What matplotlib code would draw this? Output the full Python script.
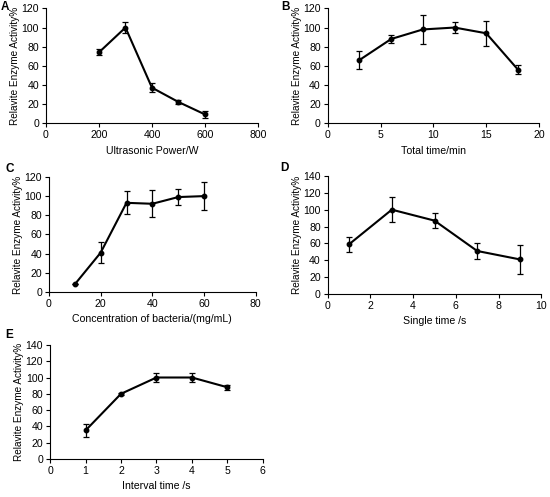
import matplotlib
matplotlib.use("Agg")
import matplotlib.pyplot as plt

plt.rcParams['font.family'] = ['Liberation Sans', 'DejaVu Sans']

# Data
a_x = [200, 300, 400, 500, 600]
a_y = [74, 100, 37, 22, 9]
a_err = [3, 6, 5, 2, 4]

b_x = [3, 6, 9, 12, 15, 18]
b_y = [66, 88, 98, 100, 94, 56]
b_err = [9, 4, 15, 6, 13, 5]

c_x = [10, 20, 30, 40, 50, 60]
c_y = [8, 41, 93, 92, 99, 100]
c_err = [0, 11, 12, 14, 8, 15]

d_x = [1, 3, 5, 7, 9]
d_y = [59, 100, 87, 51, 41]
d_err = [9, 15, 9, 9, 17]

e_x = [1, 2, 3, 4, 5]
e_y = [35, 80, 100, 100, 88]
e_err = [8, 1, 6, 5, 3]

ylabel = "Relavite Enzyme Activity%"

fig = plt.figure(figsize=(5.5, 4.97), dpi=100)

panels = [
    ("A", [0.0836, 0.7525, 0.469 - 0.0836, 0.983 - 0.7525], a_x, a_y, a_err,
     "Ultrasonic Power/W", (0, 800), range(0, 801, 200), (0, 120), range(0, 121, 20), (1, 1)),
    ("B", [0.596, 0.7525, 0.980 - 0.596, 0.983 - 0.7525], b_x, b_y, b_err,
     "Total time/min", (0, 20), range(0, 21, 5), (0, 120), range(0, 121, 20), (281, 1)),
    ("C", [0.089, 0.4125, 0.465 - 0.089, 0.644 - 0.4125], c_x, c_y, c_err,
     "Concentration of bacteria/(mg/mL)", (0, 80), range(0, 81, 20), (0, 120), range(0, 121, 20), (5, 163)),
    ("D", [0.596, 0.4085, 0.984 - 0.596, 0.646 - 0.4085], d_x, d_y, d_err,
     "Single time /s", (0, 10), range(0, 11, 2), (0, 140), range(0, 141, 20), (280, 162)),
    ("E", [0.091, 0.0765, 0.478 - 0.091, 0.306 - 0.0765], e_x, e_y, e_err,
     "Interval time /s", (0, 6), range(0, 7, 1), (0, 140), range(0, 141, 20), (5, 329)),
]

for letter, rect, x, y, err, xlabel, xlim, xticks, ylim, yticks, lpos in panels:
    ax = fig.add_axes(rect)
    ax.errorbar(x, y, yerr=err, color='black', linewidth=1.5, marker='o', markersize=3.2,
                capsize=2, elinewidth=0.9, capthick=0.9)
    ax.set_xlim(*xlim)
    ax.set_ylim(*ylim)
    ax.set_xticks(list(xticks))
    ax.set_yticks(list(yticks))
    ax.spines['top'].set_visible(False)
    ax.spines['right'].set_visible(False)
    for s in ('left', 'bottom'):
        ax.spines[s].set_linewidth(0.8)
    ax.tick_params(direction='out', length=3, width=0.8, labelsize=7.6, pad=2)
    ax.set_xlabel(xlabel, fontsize=7.6, labelpad=4)
    ax.set_ylabel(ylabel, fontsize=7.2, labelpad=1)
    fig.text(lpos[0] / 550, 1 - lpos[1] / 497, letter, fontsize=8.5, fontweight='bold',
             ha='left', va='top')

fig.savefig("out.png", dpi=100)
